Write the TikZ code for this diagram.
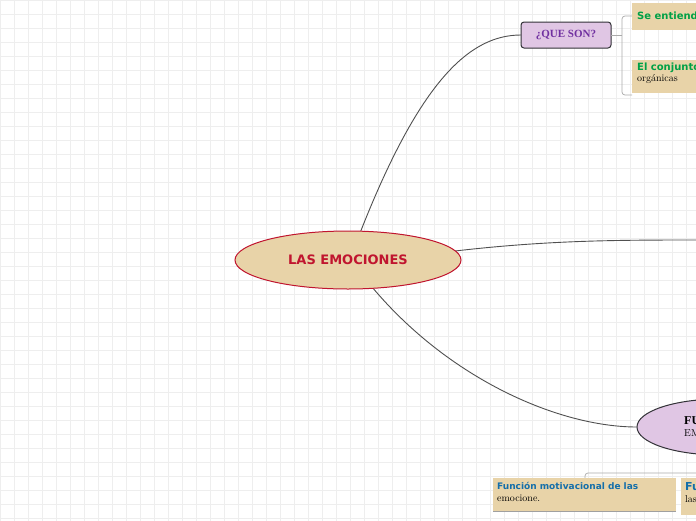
\documentclass[tikz,border=0pt]{standalone}
\usepackage{fontspec}
\usetikzlibrary{shapes.geometric}
\newfontfamily\dv{DejaVu Sans}
\newfontfamily\ser{Liberation Serif}
\definecolor{gridc}{RGB}{238,238,238}
\definecolor{tanc}{RGB}{232,211,168}
\definecolor{connc}{RGB}{80,80,80}
\definecolor{brkc}{RGB}{170,170,170}
\definecolor{redc}{RGB}{192,21,47}
\definecolor{purpf}{RGB}{224,198,228}
\definecolor{darkc}{RGB}{50,50,55}
\definecolor{purpt}{RGB}{112,48,160}
\definecolor{greent}{RGB}{0,160,70}
\definecolor{bluet}{RGB}{20,110,170}
\definecolor{linec}{RGB}{160,160,160}
\begin{document}
\begin{tikzpicture}[x=1pt,y=-1pt,
 tan/.style={fill=tanc},
 conn/.style={draw=connc,line width=0.9pt},
 brk/.style={draw=brkc,line width=0.7pt,rounded corners=3pt}]
\useasboundingbox (0,0) rectangle (696,520);
\clip (0,0) rectangle (696,520);
\fill[white] (0,0) rectangle (696,520);
\draw[gridc,line width=0.4pt,step=14pt] (0,0) grid (700,525);
% connectors
\coordinate (qs) at (521,35);
\coordinate (rt) at (700,240);
\coordinate (fu) at (637,427);
\draw[conn] (360,233) .. controls (420,80) and (470,35) .. (qs);
\draw[conn] (455,251) .. controls (550,240) and (620,240) .. (rt);
\draw[conn] (372,287) .. controls (450,380) and (560,427) .. (fu);
% central
\node[ellipse,draw=redc,line width=1pt,tan,minimum width=226,minimum height=58,inner sep=0] (c) at (348,260) {\dv\bfseries\fontsize{13}{15}\selectfont\color{redc}LAS EMOCIONES};
% que son
\node[draw=darkc,line width=1pt,rounded corners=3pt,fill=purpf,minimum width=90,minimum height=26,inner sep=0] (q) at (566,35) {\ser\bfseries\fontsize{11}{13}\selectfont\color{purpt}¿QUE SON?};
\draw[brk] (611,35) -- (622,35);
\draw[brk] (632,16) -- (622,16) -- (622,95) -- (632,95);
\node[tan,anchor=north west,minimum width=90,minimum height=27,inner sep=0] (s1) at (632,3) {};
\node[anchor=west,inner sep=0] (s1t) at (637,16) {\dv\bfseries\fontsize{10}{12}\selectfont\color{greent}Se entiende};
\node[tan,anchor=north west,minimum width=90,minimum height=33,inner sep=0] (s2) at (632,60) {};
\node[anchor=north west,inner sep=0,align=left] (s2t) at (637,63) {\dv\bfseries\fontsize{10}{14}\selectfont\color{greent}El conjunto\\[-1pt]orgánicas};
% funciones ellipse
\node[ellipse,draw=darkc,line width=1pt,fill=purpf,minimum width=166,minimum height=56,inner sep=0] (f) at (720,427) {};
\node[anchor=west,inner sep=0,align=left] (ft) at (684,427) {\ser\bfseries\fontsize{12}{16}\selectfont FUNCIONES\\EMOCIONES};
% bottom bracket
\draw[brk] (585,484) -- (585,473) -- (700,473);
\node[tan,anchor=north west,minimum width=183,minimum height=33,inner sep=0] (b1) at (493,478) {};
\draw[linec] (493,511) -- (676,511);
\node[anchor=north west,inner sep=0,align=left] (b1t) at (497,482) {\dv\bfseries\fontsize{9}{14}\selectfont\color{bluet}Función motivacional de las\\emocione.};
\node[tan,anchor=north west,minimum width=40,minimum height=37,inner sep=0] (b2) at (681,478) {};
\node[anchor=north west,inner sep=0,align=left] (b2t) at (685,481) {\dv\bfseries\fontsize{11}{15}\selectfont\color{bluet}Función\\las};
\end{tikzpicture}
\end{document}
